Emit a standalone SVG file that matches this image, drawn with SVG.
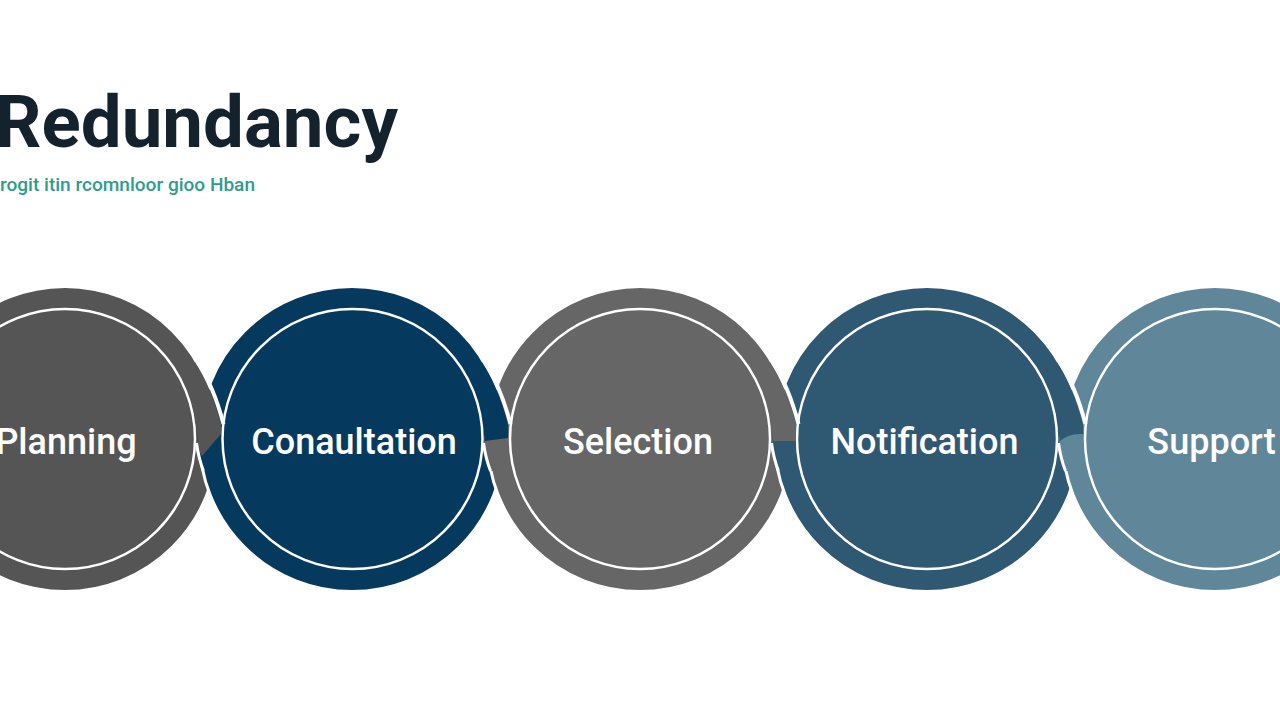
<svg xmlns="http://www.w3.org/2000/svg" width="1280" height="720" viewBox="0 0 1280 720">
<style>
text{font-family:Roboto,"Liberation Sans",sans-serif}
.disc{stroke:#fff;stroke-width:3}
.ring{fill:none;stroke:#fff;stroke-width:2.5}
.label{fill:#fff;font-size:36px;font-weight:500;text-anchor:middle}
.edge{fill:none;stroke:#fff;stroke-width:4}
.low{fill:none;stroke:#fff;stroke-width:3}
</style>
<defs>
<path id="upper-edge" class="edge" d="M132.500 362Q148.500 386 158.500 424"/>
<path id="lower-edge" class="low" d="M131.500 443Q133.500 458 138.500 471"/>
<path id="lower-fill" d="M132.500 436L132.500 446L138.500 471L156 471L156 428Z"/>
</defs>
<rect width="1280" height="720" fill="#fff"/>
<text id="title" x="-5" y="147" font-size="72" font-weight="700" fill="#14222e" textLength="403" lengthAdjust="spacingAndGlyphs">Redundancy</text>
<text id="subtitle" x="0" y="191" font-size="18" font-weight="500" fill="#2f9c8c" textLength="255" lengthAdjust="spacingAndGlyphs">rogit itin rcomnloor gioo Hban</text>
<g id="node-planning"><circle class="disc" cx="65" cy="439" r="152.500" fill="#555556"/><circle class="ring" cx="65" cy="439" r="130"/><text class="label" x="66" y="454">Planning</text></g>
<g id="node-consultation"><circle class="disc" cx="352" cy="439" r="152.500" fill="#053a5e"/><circle class="ring" cx="352.500" cy="439" r="130"/><text class="label" x="354" y="454">Conaultation</text></g>
<g id="node-selection"><circle class="disc" cx="640" cy="439" r="152.500" fill="#666667"/><circle class="ring" cx="640" cy="439" r="130"/><text class="label" x="638" y="454">Selection</text></g>
<g id="node-notification"><circle class="disc" cx="927" cy="439" r="152.500" fill="#2f5873"/><circle class="ring" cx="927" cy="439" r="130"/><text class="label" x="924.500" y="454">Notification</text></g>
<g id="node-support"><circle class="disc" cx="1215" cy="439" r="152.500" fill="#5f8799"/><circle class="ring" cx="1215" cy="439" r="130"/><text class="label" x="1211.500" y="454">Support</text></g>
<g id="connectors">
<g transform="translate(65 0)">
<use href="#lower-fill" fill="#053a5e"/>
<path fill="#555556" d="M130 362Q146 386 156 424L156 434L137 456L132.500 449L132.500 430Z"/>
<use href="#upper-edge"/><use href="#lower-edge"/>
</g>
<g transform="translate(352 0)">
<use href="#lower-fill" fill="#666667"/>
<path fill="#053a5e" d="M130 362Q146 386 156 424L156 438L133 441L132.500 430Z"/>
<use href="#upper-edge"/><use href="#lower-edge"/>
</g>
<g transform="translate(640 0)">
<use href="#lower-fill" fill="#2f5873"/>
<path fill="#666667" d="M130 362Q146 386 156 424L156 441L133 441L132.500 430Z"/>
<use href="#upper-edge"/><use href="#lower-edge"/>
</g>
<g transform="translate(927 0)">
<use href="#lower-fill" fill="#5f8799"/>
<path fill="#2f5873" d="M130 362Q146 386 156 424L156 434Q142 433 133 441L132.500 430Z"/>
<use href="#upper-edge"/><use href="#lower-edge"/>
</g>
</g>
</svg>
